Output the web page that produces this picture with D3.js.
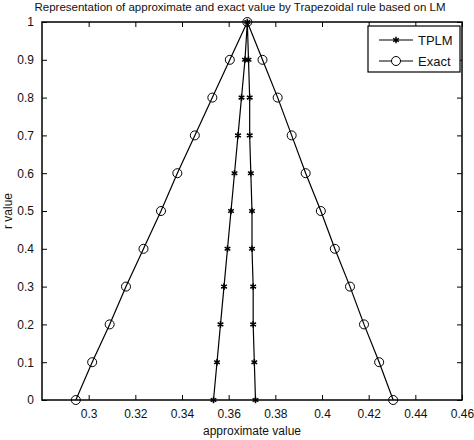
<!DOCTYPE html>
<html><head><meta charset="utf-8">
<script src="https://cdn.jsdelivr.net/npm/d3@7"></script>
<style>body{margin:0;background:#fff}text{font-family:"Liberation Sans",Arial,sans-serif;fill:#111}</style>
</head><body><svg id="c" width="474" height="440"></svg>
<script>
const rValues = [0,0.1,0.2,0.3,0.4,0.5,0.6,0.7,0.8,0.9,1];
const exactLeft = [0.2945,0.3015,0.309,0.316,0.3235,0.331,0.338,0.3455,0.353,0.3605,0.368];
const exactRight = [0.4305,0.4245,0.418,0.412,0.4055,0.3995,0.393,0.387,0.381,0.3745,0.368];
const tplmLeft = [0.3535,0.355,0.3565,0.358,0.3595,0.361,0.3625,0.364,0.3655,0.367,0.368];
const tplmRight = [0.3715,0.371,0.3705,0.3705,0.370,0.370,0.3695,0.369,0.369,0.3685,0.368];
const xTicks = [0.3,0.32,0.34,0.36,0.38,0.4,0.42,0.44,0.46];
const yTicks = rValues;

const svg = d3.select('#c');
const x = d3.scaleLinear().domain([0.28,0.46]).range([42,462]);
const y = d3.scaleLinear().domain([0,1]).range([400,22]);

// join left (bottom -> top) and right (top -> bottom) into one polyline
function path(left, right) {
    let pts = rValues.map((r,i) => [left[i], r]);
    rValues.slice().reverse().forEach((r,k) => { let i = rValues.length-1-k; if (i < rValues.length-1) pts.push([right[i], r]); });
    return pts;
}
const line = d3.line().x(d => x(d[0])).y(d => y(d[1]));
const exactPts = path(exactLeft, exactRight);
const tplmPts = path(tplmLeft, tplmRight);

svg.append('rect').attr('x',42).attr('y',22).attr('width',420).attr('height',378)
    .attr('fill','none').attr('stroke','#000').attr('stroke-width',1.5);

const xa = svg.append('g').attr('transform','translate(0,400)')
    .call(d3.axisBottom(x).tickValues(xTicks).tickSize(-5).tickPadding(9).tickFormat(d3.format('')));
const xt = svg.append('g').attr('transform','translate(0,22)')
    .call(d3.axisTop(x).tickValues(xTicks).tickSize(-5).tickFormat(''));
const ya = svg.append('g').attr('transform','translate(42,0)')
    .call(d3.axisLeft(y).tickValues(yTicks).tickSize(-5).tickPadding(8).tickFormat(d3.format('')));
const yr = svg.append('g').attr('transform','translate(462,0)')
    .call(d3.axisRight(y).tickValues(yTicks).tickSize(-5).tickFormat(''));
[xa,xt,ya,yr].forEach(g => { g.select('.domain').remove(); g.selectAll('line').attr('stroke','#000'); g.selectAll('text').style('font-size','12px'); });

svg.append('path').attr('d', line(exactPts)).attr('fill','none').attr('stroke','#000').attr('stroke-width',1.2);
svg.append('path').attr('d', line(tplmPts)).attr('fill','none').attr('stroke','#000').attr('stroke-width',1.2);

svg.selectAll('.o').data(exactPts).join('circle').attr('cx',d=>x(d[0])).attr('cy',d=>y(d[1]))
    .attr('r',4.5).attr('fill','none').attr('stroke','#000');
const star = d3.symbol().type(d3.symbolAsterisk).size(30);
svg.selectAll('.s').data(tplmPts).join('path').attr('d',star)
    .attr('transform',d=>`translate(${x(d[0])},${y(d[1])})`).attr('fill','none').attr('stroke','#000').attr('stroke-width',1.5);

svg.append('text').attr('x',240).attr('y',11).attr('text-anchor','middle').style('font-size','11.5px')
    .text('Representation of approximate and exact value by Trapezoidal rule based on LM');
svg.append('text').attr('x',252).attr('y',435).attr('text-anchor','middle').style('font-size','12px').text('approximate value');
svg.append('text').attr('transform','translate(12,211) rotate(-90)').attr('text-anchor','middle').style('font-size','12px').text('r value');

// legend
const lg = svg.append('g');
lg.append('rect').attr('x',368).attr('y',26).attr('width',92).attr('height',46).attr('fill','#fff').attr('stroke','#000').attr('stroke-width',1.2);
[['TPLM',40],['Exact',61]].forEach(([name,ly],i) => {
    lg.append('line').attr('x1',379).attr('x2',413).attr('y1',ly).attr('y2',ly).attr('stroke','#000').attr('stroke-width',1.2);
    if (i===0) lg.append('path').attr('d',star).attr('transform',`translate(396,${ly})`).attr('stroke','#000').attr('stroke-width',1.5);
    else lg.append('circle').attr('cx',396).attr('cy',ly).attr('r',4.5).attr('fill','#fff').attr('stroke','#000');
    lg.append('text').attr('x',418).attr('y',ly+4.5).style('font-size','13px').text(name);
});
</script></body></html>
